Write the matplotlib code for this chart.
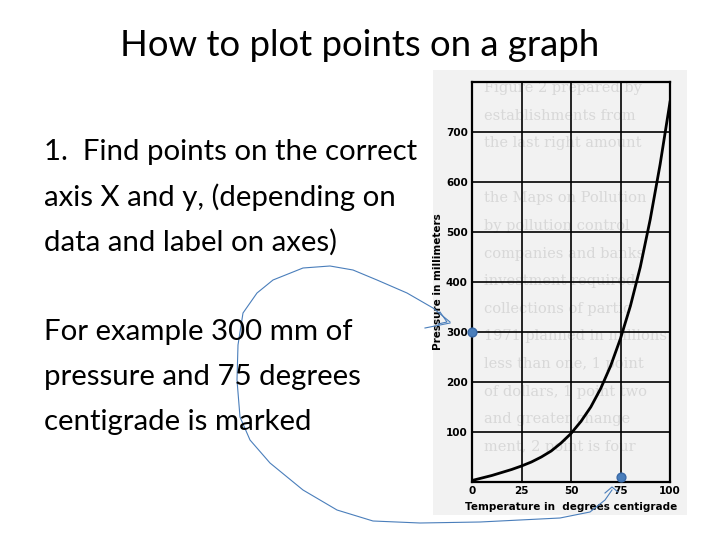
import numpy as np
import matplotlib.pyplot as plt
from matplotlib.patches import Rectangle

# values (temperature in C, pressure in mm)
temp = [0, 5, 10, 15, 20, 25, 30, 35, 40, 45, 50, 55, 60, 65, 70, 75, 80, 85, 90, 95, 100]
pressure = [3, 8, 13, 19, 25, 32, 40, 50, 62, 78, 97, 121, 150, 187, 232, 287, 352, 430, 525, 635, 760]

# the two marked points
mark_x = [0, 75]
mark_y = [300, 10]

xticks = [0, 25, 50, 75, 100]
yticks = [100, 200, 300, 400, 500, 600, 700]

title = "How to plot points on a graph"
body = ["1.  Find points on the correct",
        "axis X and y, (depending on",
        "data and label on axes)",
        "",
        "For example 300 mm of",
        "pressure and 75 degrees",
        "centigrade is marked"]

# faint text showing through the scanned page
ghost = ["Figure 2 prepared by",
         "establishments from",
         "the last right amount",
         "",
         "the Maps on Pollution",
         "by pollution control",
         "companies and banks",
         "investment required",
         "collections of partic",
         "1971 planned in millions",
         "less than one, 1 point",
         "of dollars, 1 point two",
         "and greater change",
         "ment, 2 point is four"]

blue = "#4a7ebb"

fig = plt.figure(figsize=(7.2, 5.4), dpi=100)
fig.patch.set_facecolor("white")

W, H = 720.0, 540.0

# scanned paper background
bg = fig.add_axes([433 / W, 1 - 515 / H, (687 - 433) / W, (515 - 70) / H])
bg.set_xlim(0, 1)
bg.set_ylim(0, 1)
bg.axis("off")
bg.add_patch(Rectangle((0, 0), 1, 1, facecolor="#f2f2f2", edgecolor="none"))
for i, line in enumerate(ghost):
    bg.text(0.2, 0.975 - i * 0.062, line, fontsize=10.5, family="DejaVu Serif",
            color="#d8d8d8", va="top", ha="left")

ax = fig.add_axes([472 / W, 1 - 482 / H, (670 - 472) / W, (482 - 82) / H])
ax.patch.set_alpha(0)
ax.plot(temp, pressure, color="black", lw=2.0, zorder=3)
ax.set_xlim(0, 100)
ax.set_ylim(0, 800)
ax.set_xticks(xticks)
ax.set_yticks(yticks)
ax.grid(True, color="black", lw=1.2)
for s in ax.spines.values():
    s.set_linewidth(1.6)
ax.tick_params(length=0, labelsize=7.5, pad=3)
for lab in ax.get_xticklabels() + ax.get_yticklabels():
    lab.set_fontweight("bold")
ax.set_xlabel("Temperature in  degrees centigrade", fontsize=7.5, fontweight="bold", labelpad=4)
ax.set_ylabel("Pressure in millimeters", fontsize=7.5, fontweight="bold", labelpad=2)
ax.scatter(mark_x, mark_y, s=40, color=blue, edgecolor="#3a6aa8", zorder=5, clip_on=False)

# slide text
fig.text(0.5, 1 - 45 / H, title, ha="center", va="center", fontsize=26.3, family="Lato")
for i, line in enumerate(body):
    fig.text(44 / W, 1 - (152 + i * 45) / H, line, ha="left", va="center",
             fontsize=21.2, family="Lato")


def pen(points):
    # hand drawn stroke, points given in slide pixels
    fig.add_artist(plt.Line2D([p[0] / W for p in points], [1 - p[1] / H for p in points],
                              color=blue, lw=0.8, transform=fig.transFigure))


pen([(450, 322), (433, 308), (407, 293), (377, 280), (353, 270), (330, 266),
     (303, 268), (273, 280), (257, 293), (243, 313), (238, 345), (237, 380),
     (240, 417), (250, 440), (270, 463), (303, 490), (337, 510), (373, 521),
     (420, 523), (480, 522), (560, 518), (590, 512), (605, 500), (612, 490)])
pen([(440, 312), (447, 322), (438, 324)])
pen([(425, 328), (450, 323)])
pen([(605, 493), (612, 487), (618, 492)])

fig.savefig("out.png", dpi=100)
